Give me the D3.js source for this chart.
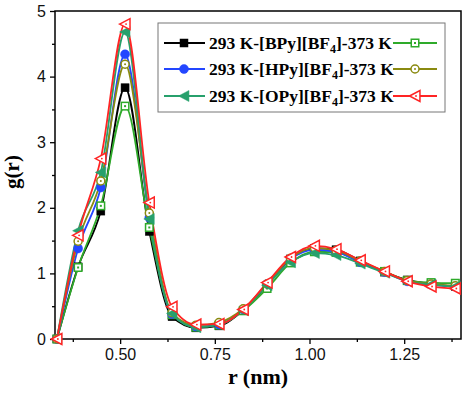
<!DOCTYPE html>
<html><head><meta charset="utf-8">
<script src="https://cdn.jsdelivr.net/npm/d3@7"></script>
<style>body{margin:0;background:#fff}svg{display:block}</style>
</head><body>
<svg id="c" width="474" height="395"></svg>
<script>
const rValues = [0.333, 0.389, 0.449, 0.513, 0.577, 0.637, 0.700, 0.761, 0.825, 0.888, 0.950, 1.013, 1.070, 1.134, 1.198, 1.258, 1.321, 1.385];
const bpy293 = [0, 1.10, 1.95, 3.83, 1.64, 0.34, 0.17, 0.20, 0.44, 0.82, 1.22, 1.38, 1.36, 1.19, 1.02, 0.90, 0.84, 0.80];
const bpy373 = [0, 1.09, 2.03, 3.55, 1.70, 0.37, 0.18, 0.21, 0.43, 0.77, 1.16, 1.33, 1.32, 1.17, 1.03, 0.89, 0.86, 0.85];
const hpy293 = [0, 1.38, 2.31, 4.34, 1.85, 0.38, 0.19, 0.22, 0.45, 0.84, 1.22, 1.36, 1.33, 1.17, 1.02, 0.88, 0.83, 0.80];
const hpy373 = [0, 1.49, 2.41, 4.19, 1.92, 0.40, 0.21, 0.25, 0.46, 0.84, 1.23, 1.39, 1.35, 1.19, 1.03, 0.89, 0.84, 0.81];
const opy293 = [0, 1.65, 2.54, 4.68, 1.83, 0.39, 0.18, 0.22, 0.44, 0.82, 1.17, 1.31, 1.28, 1.15, 1.01, 0.88, 0.83, 0.80];
const opy373 = [0, 1.58, 2.75, 4.80, 2.08, 0.49, 0.22, 0.23, 0.45, 0.86, 1.25, 1.42, 1.37, 1.20, 1.03, 0.88, 0.80, 0.77];
const xMajorTicks = [0.50, 0.75, 1.00, 1.25];
const xMinorTicks = [0.375, 0.625, 0.875, 1.125, 1.375];
const yMajorTicks = [0, 1, 2, 3, 4, 5];
const yMinorTicks = [0.5, 1.5, 2.5, 3.5, 4.5];
const legendCompounds = ["BPy", "HPy", "OPy"];

const series = [
  {name:"BPy 293", values:bpy293, color:"#000000", sym:"square", fill:true},
  {name:"BPy 373", values:bpy373, color:"#2eaa2a", sym:"square", fill:false},
  {name:"HPy 293", values:hpy293, color:"#2346ff", sym:"circle", fill:true},
  {name:"HPy 373", values:hpy373, color:"#8a8a10", sym:"circle", fill:false},
  {name:"OPy 293", values:opy293, color:"#27a06c", sym:"tri", fill:true},
  {name:"OPy 373", values:opy373, color:"#ff2424", sym:"tri", fill:false}
];

const svg = d3.select("#c");
const L = 55, R = 461, T = 11, B = 339;
const x = d3.scaleLinear().domain([0.328, 1.40]).range([L, R]);
const y = d3.scaleLinear().domain([0, 5]).range([B, T]);

svg.append("defs").append("clipPath").attr("id","clip")
  .append("rect").attr("x",L).attr("y",T-6).attr("width",R-L).attr("height",B-T+6);

function marker(g, sym, cx, cy, color, fill){
  if(sym==="square"){
    const s = fill?8:7.5;
    g.append("rect").attr("x",cx-s/2).attr("y",cy-s/2).attr("width",s).attr("height",s)
      .attr("fill",fill?color:"#fff").attr("stroke",color).attr("stroke-width",fill?0.5:1.5);
    if(!fill) g.append("rect").attr("x",cx-1).attr("y",cy-1).attr("width",2).attr("height",2).attr("fill",color);
  } else if(sym==="circle"){
    g.append("circle").attr("cx",cx).attr("cy",cy).attr("r",fill?4.5:4)
      .attr("fill",fill?color:"#fff").attr("stroke",color).attr("stroke-width",fill?0.5:1.5);
    if(!fill) g.append("circle").attr("cx",cx).attr("cy",cy).attr("r",1).attr("fill",color);
  } else {
    const s = 5.5;
    const pts = [[cx-s,cy],[cx+s*0.9,cy-s],[cx+s*0.9,cy+s]];
    g.append("path").attr("d","M"+pts.map(p=>p.join(",")).join("L")+"Z")
      .attr("fill",fill?color:"#fff").attr("stroke",color).attr("stroke-width",fill?0.5:1.5);
    if(!fill) g.append("circle").attr("cx",cx+1).attr("cy",cy).attr("r",0.9).attr("fill",color);
  }
}

// frame
svg.append("rect").attr("x",L).attr("y",T).attr("width",R-L).attr("height",B-T)
  .attr("fill","none").attr("stroke","#000").attr("stroke-width",1.5);

// x axis
const xAxis = d3.axisBottom(x).tickValues(xMajorTicks).tickFormat(d3.format(".2f")).tickSize(5).tickSizeOuter(0);
const gx = svg.append("g").attr("transform",`translate(0,${B})`).call(xAxis);
gx.select(".domain").remove();
gx.selectAll("line").attr("stroke-width",1.3);
gx.selectAll("text").attr("font-family","'Liberation Sans',Arial,sans-serif").attr("font-size",16).attr("fill","#111").attr("dy","1em").attr("y",5);
const xMinor = d3.axisBottom(x).tickValues(xMinorTicks).tickFormat("").tickSize(3).tickSizeOuter(0);
const gxm = svg.append("g").attr("transform",`translate(0,${B})`).call(xMinor);
gxm.select(".domain").remove();
gxm.selectAll("line").attr("stroke-width",1.3);

// y axis
const yAxis = d3.axisLeft(y).tickValues(yMajorTicks).tickFormat(d3.format("d")).tickSize(5).tickSizeOuter(0);
const gy = svg.append("g").attr("transform",`translate(${L},0)`).call(yAxis);
gy.select(".domain").remove();
gy.selectAll("line").attr("stroke-width",1.3);
gy.selectAll("text").attr("font-family","'Liberation Sans',Arial,sans-serif").attr("font-size",16).attr("fill","#111").attr("x",-9);
const yMinor = d3.axisLeft(y).tickValues(yMinorTicks).tickFormat("").tickSize(3).tickSizeOuter(0);
const gym = svg.append("g").attr("transform",`translate(${L},0)`).call(yMinor);
gym.select(".domain").remove();
gym.selectAll("line").attr("stroke-width",1.3);

// titles
svg.append("text").attr("x",258).attr("y",384).attr("text-anchor","middle")
  .attr("font-family","'Liberation Serif','Times New Roman',serif").attr("font-weight","bold").attr("font-size",22).text("r (nm)");
svg.append("text").attr("transform","translate(19,172) rotate(-90)").attr("text-anchor","middle")
  .attr("font-family","'Liberation Serif','Times New Roman',serif").attr("font-weight","bold").attr("font-size",21).text("g(r)");

// lines
const plot = svg.append("g").attr("clip-path","url(#clip)");
const line = d3.line().x((d,i)=>x(rValues[i])).y(d=>y(d)).curve(d3.curveMonotoneX);
series.forEach(s=>{
  plot.append("path").datum(s.values).attr("d",line).attr("fill","none")
    .attr("stroke",s.color).attr("stroke-width",1.8);
});
series.forEach(s=>{
  const g = svg.append("g");
  s.values.forEach((v,i)=>marker(g, s.sym, x(rValues[i]), y(v), s.color, s.fill));
});

// legend
const lg = svg.append("g");
lg.append("rect").attr("x",158).attr("y",23).attr("width",287).attr("height",89)
  .attr("fill","#fff").attr("stroke","#777").attr("stroke-width",1);
const rowsY = [43, 69, 96];
legendCompounds.forEach((c,k)=>{
  const s1 = series[2*k], s2 = series[2*k+1];
  const yy = rowsY[k];
  lg.append("line").attr("x1",164).attr("x2",205).attr("y1",yy).attr("y2",yy).attr("stroke",s1.color).attr("stroke-width",1.8);
  marker(lg, s1.sym, 184, yy, s1.color, s1.fill);
  lg.append("line").attr("x1",393).attr("x2",437).attr("y1",yy).attr("y2",yy).attr("stroke",s2.color).attr("stroke-width",1.8);
  marker(lg, s2.sym, 415, yy, s2.color, s2.fill);
  const t = lg.append("text").attr("x",209).attr("y",yy+6)
    .attr("font-family","'Liberation Serif','Times New Roman',serif").attr("font-weight","bold").attr("font-size",17.5);
  t.append("tspan").text(`293 K-[${c}][BF`);
  t.append("tspan").attr("font-size",12).attr("dy",4).text("4");
  t.append("tspan").attr("dy",-4).text("]-373 K");
});
</script>
</body></html>
